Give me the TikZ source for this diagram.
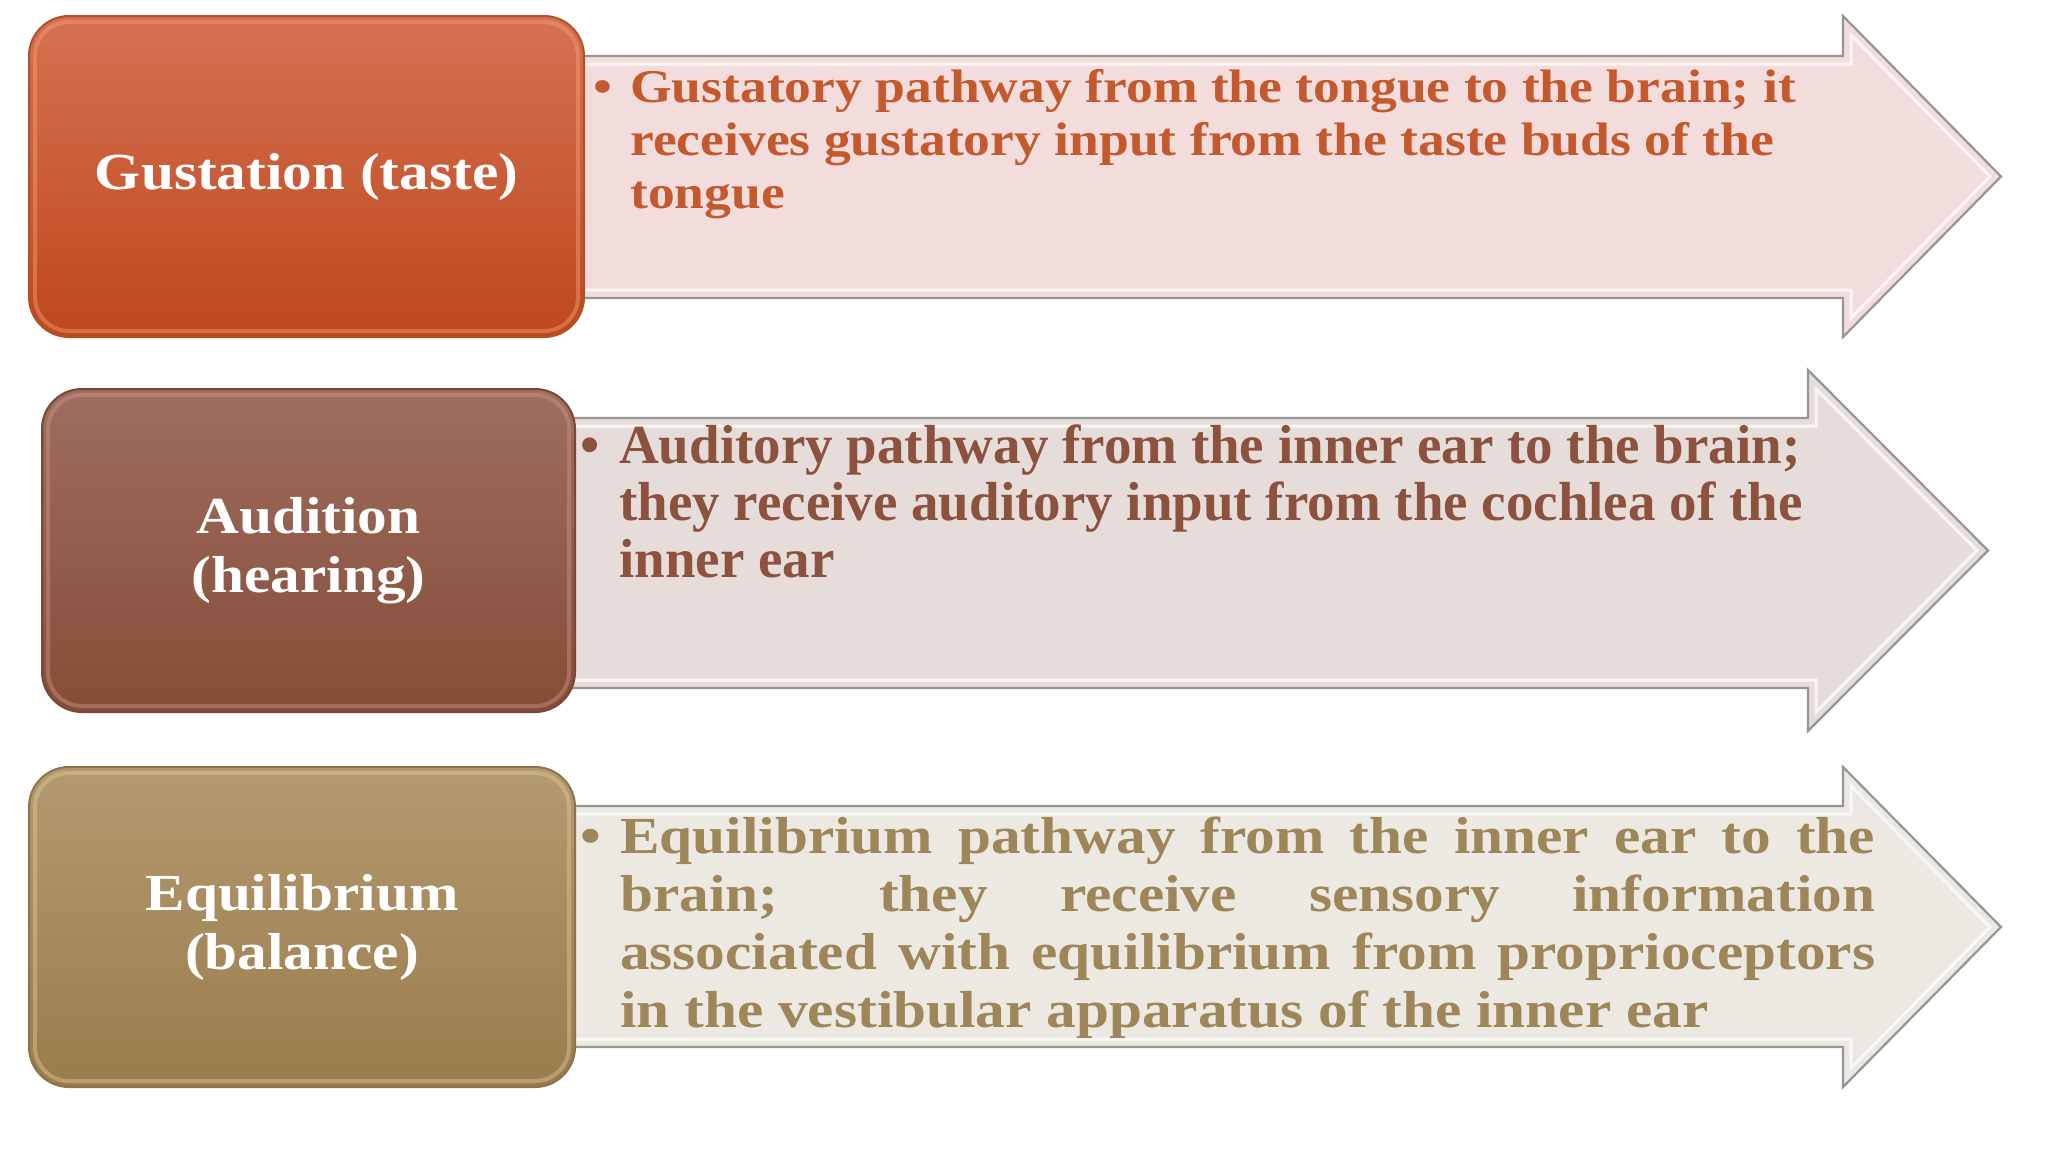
\documentclass[tikz,border=0pt]{standalone}
\usepackage{fontspec}
\setmainfont{Liberation Serif}
\newfontfamily\camb[FakeStretch=1.14]{Liberation Serif}
\newfontfamily\tnr{Liberation Serif}
\usetikzlibrary{calc}
\definecolor{boxAt}{RGB}{213,113,82}
\definecolor{boxAb}{RGB}{190,72,28}
\definecolor{boxAd}{RGB}{178,80,40}
\definecolor{boxAl}{RGB}{245,160,120}
\definecolor{boxBt}{RGB}{158,110,95}
\definecolor{boxBb}{RGB}{134,76,56}
\definecolor{boxBd}{RGB}{120,72,55}
\definecolor{boxBl}{RGB}{205,150,130}
\definecolor{boxCt}{RGB}{180,154,112}
\definecolor{boxCb}{RGB}{154,124,76}
\definecolor{boxCd}{RGB}{140,115,75}
\definecolor{boxCl}{RGB}{225,200,150}
\definecolor{arrA}{RGB}{242,221,220}
\definecolor{arrB}{RGB}{230,220,217}
\definecolor{arrC}{RGB}{236,232,226}
\definecolor{txtA}{RGB}{196,89,45}
\definecolor{txtB}{RGB}{140,82,62}
\definecolor{txtC}{RGB}{158,134,88}
\definecolor{arrline}{RGB}{150,150,150}
\begin{document}
\begin{tikzpicture}[x=1pt,y=-1pt,
  arrowshape/.style={draw=arrline, line width=2.2pt, line join=miter},
  bevelline/.style={draw=white, opacity=0.75, line width=3pt, line join=miter},
  labelbox/.style={rounded corners=40pt, line width=2pt, inner sep=0pt, align=center,
     text=white, font=\camb\bfseries\fontsize{52}{59}\selectfont},
  boxbevel/.style={line width=4pt, opacity=0.45, rounded corners=34pt},
  bodytext/.style={anchor=base west, inner sep=0pt}]
\useasboundingbox (0,0) rectangle (2048,1152);
\fill[white] (0,0) rectangle (2048,1152);

% arrows
\path[arrowshape, fill=arrA] (560,56) -- (1843,56) -- (1843,16) -- (2001,176.5) -- (1843,337) -- (1843,298) -- (560,298) -- cycle;
\path[bevelline] (560,64) -- (1851,64) -- (1851,35) -- (1990,176.5) -- (1851,318) -- (1851,290) -- (560,290);
\path[arrowshape, fill=arrB] (550,418) -- (1808,418) -- (1808,370) -- (1988,550.5) -- (1808,731) -- (1808,688) -- (550,688) -- cycle;
\path[bevelline] (550,426) -- (1816,426) -- (1816,389) -- (1977,550.5) -- (1816,712) -- (1816,680) -- (550,680);
\path[arrowshape, fill=arrC] (550,806) -- (1843,806) -- (1843,767) -- (2001,927) -- (1843,1087) -- (1843,1047) -- (550,1047) -- cycle;
\path[bevelline] (550,814) -- (1851,814) -- (1851,786) -- (1990,927) -- (1851,1068) -- (1851,1039) -- (550,1039);

% boxes
\node[labelbox, draw=boxAd, top color=boxAt, bottom color=boxAb, minimum width=555pt, minimum height=321pt] (gust) at (306.5,176.5) {Gustation (taste)};
\draw[boxbevel, boxAl] ($(gust.north west)+(7,7)$) rectangle ($(gust.south east)+(-7,-7)$);
\node[labelbox, draw=boxBd, top color=boxBt, bottom color=boxBb, minimum width=533pt, minimum height=323pt] (aud) at (308.5,550.5) {Audition\\(hearing)};
\draw[boxbevel, boxBl] ($(aud.north west)+(7,7)$) rectangle ($(aud.south east)+(-7,-7)$);
\node[labelbox, draw=boxCd, top color=boxCt, bottom color=boxCb, minimum width=546pt, minimum height=320pt] (equi) at (302,927) {Equilibrium\\(balance)};
\draw[boxbevel, boxCl] ($(equi.north west)+(7,7)$) rectangle ($(equi.south east)+(-7,-7)$);

% texts
\node[bodytext, text=txtA] (t1) at (630,102) {\parbox[t]{1240pt}{\camb\bfseries\fontsize{47}{53}\selectfont
  \noindent\llap{•\hspace{18pt}}Gustatory pathway from the tongue to the brain; it\\
  receives gustatory input from the taste buds of the\\
  tongue}};
\node[bodytext, text=txtB] (t2) at (619,463) {\parbox[t]{1250pt}{\tnr\bfseries\fontsize{55}{57}\selectfont
  \noindent\llap{•\hspace{19pt}}Auditory pathway from the inner ear to the brain;\\
  they receive auditory input from the cochlea of the\\
  inner ear}};
\node[bodytext, text=txtC] (t3) at (620,853) {\parbox[t]{1255pt}{\camb\bfseries\fontsize{52}{58}\selectfont
  \noindent\llap{•\hspace{19pt}}\makebox[1255pt][s]{Equilibrium pathway from the inner ear to the}\\
  \makebox[1255pt][s]{brain; they receive sensory information}\\
  \makebox[1255pt][s]{associated with equilibrium from proprioceptors}\\
  in the vestibular apparatus of the inner ear}};
\end{tikzpicture}
\end{document}
